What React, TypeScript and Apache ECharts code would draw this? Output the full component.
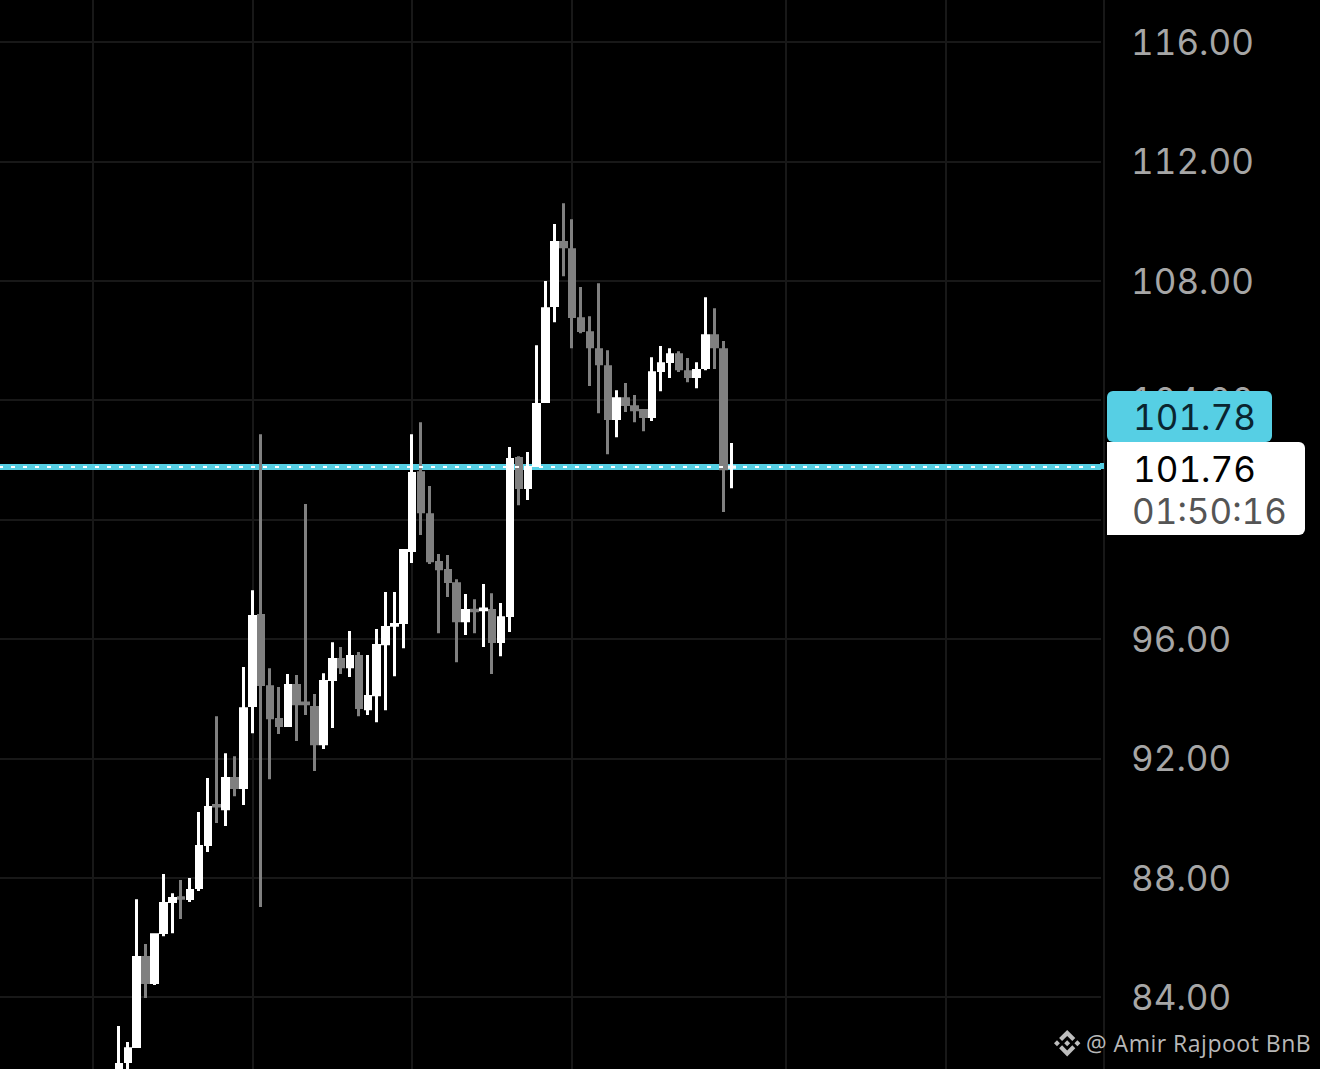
import React, { useEffect, useRef } from "react";
import * as echarts from "echarts";

const opens = [81.54,81.84,82.34,85.32,84.49,86.16,87.20,87.33,87.30,87.67,89.11,90.42,90.31,91.32,91.02,93.77,96.78,94.40,93.30,93.10,94.44,93.85,93.70,92.49,94.64,95.31,95.07,95.41,93.66,94.13,95.84,96.46,96.55,98.96,101.57,100.16,98.56,98.29,97.85,96.61,96.96,96.98,96.95,95.91,96.78,102.04,101.07,101.81,103.95,107.17,109.28,109.04,106.73,106.26,105.69,105.12,103.38,104.05,103.78,103.65,103.45,104.99,105.29,105.52,104.95,104.79,105.09,106.16,105.69,101.75];
const closes = [81.74,82.27,85.32,84.49,86.09,87.13,87.30,87.31,87.57,89.04,90.35,90.40,91.32,91.02,93.66,96.75,94.47,93.36,93.10,94.44,93.83,93.83,92.49,94.57,95.31,95.07,95.41,93.70,94.07,95.78,96.38,96.48,98.96,101.54,100.26,98.62,98.35,97.92,96.61,96.95,96.94,97.00,95.91,96.71,102.01,101.07,101.74,103.85,107.06,109.28,109.14,106.80,106.33,105.79,105.22,103.38,104.05,103.85,103.68,103.45,104.92,105.22,105.52,105.05,104.79,104.99,106.16,105.79,101.70,101.76];
const lows = [81.39,81.49,82.29,83.97,84.40,86.04,86.14,86.61,87.18,87.55,88.86,89.83,89.73,90.73,90.43,92.84,87.02,91.30,92.81,93.05,92.58,93.45,91.57,92.31,93.01,94.82,94.72,93.41,93.45,93.21,93.61,94.75,95.69,98.54,99.48,98.51,96.19,97.40,95.22,96.13,96.19,95.73,94.82,95.42,96.23,100.48,100.65,101.76,103.90,106.61,108.15,105.74,106.24,104.47,103.56,102.19,102.76,103.60,103.26,102.96,103.30,104.30,104.74,104.94,104.60,104.40,105.00,105.04,100.25,101.05];
const highs = [83.03,82.49,87.28,85.78,86.14,88.12,87.48,87.92,87.99,90.20,91.34,93.41,92.17,92.07,95.06,97.63,102.86,95.02,94.39,94.82,94.79,100.52,94.15,94.85,95.89,95.73,96.26,95.56,95.46,96.33,97.57,97.57,99.01,102.86,103.26,101.12,98.84,98.81,98.00,97.50,97.33,97.84,97.53,97.20,102.43,102.12,102.26,105.84,107.99,109.90,110.60,110.06,107.79,106.81,107.92,105.67,104.33,104.57,104.17,103.70,105.44,105.81,105.74,105.64,105.41,105.27,107.45,107.08,105.98,102.56];

const leadingSlots = 13;
const totalSlots = 124;
const verticalGridSlots = [10, 28, 46, 64, 88, 106];
const categories = Array.from({ length: totalSlots }, (_, i) => `${i - leadingSlots}`);

const yMin = 80;
const yMax = 120;
const yStep = 4;
const hiddenTickLabels = [80, 100, 120];
const markPrice = 101.78;
const lastPrice = 101.76;
const markPriceLabel = "101.78";
const lastPriceLabel = "101.76";
const countdownLabel = "01:50:16";
const watermark = "@ Amir Rajpoot BnB";

const logoPath =
  "M16.624 13.9202l2.7175 2.7154-7.353 7.353-7.353-7.352 2.7175-2.7164 4.6355 4.6595 4.6356-4.6595zm4.6366-4.6366L24 12l-2.7154 2.7164L18.5682 12l2.6924-2.7164zm-9.272.001l2.7163 2.6914-2.7164 2.7174v-.001L9.2721 12l2.7164-2.7154zm-9.2722-.001L5.4088 12l-2.6914 2.6924L0 12l2.7164-2.7164zM11.9885.0115l7.353 7.329-2.7174 2.7154-4.6356-4.6356-4.6355 4.6595-2.7174-2.7154 7.353-7.353z";
echarts.graphic.registerShape("bnbLogo", echarts.graphic.extendPath(logoPath as any, {}) as any);

const GRID = "#181818";
const UP = "#ffffff";
const DOWN = "#808080";
const CYAN = "#56cfe4";
const FONT = "Inter, Roboto, sans-serif";
const pageCss = `svg text { font-variant-numeric: tabular-nums !important; font-feature-settings: "tnum" 1 !important; }
svg text[style*="Open Sans"] { letter-spacing: 0.5px; }`;

export default function App() {
  const ref = useRef<HTMLDivElement>(null);
  useEffect(() => {
    document.body.style.margin = "0";
    document.body.style.background = "#000";
    const chart = echarts.init(ref.current!, undefined, { renderer: "svg" });
    const candleData = categories.map((_, i) => {
      const k = i - leadingSlots;
      return k >= 0 && k < opens.length ? [opens[k], closes[k], lows[k], highs[k]] : "-";
    });
    chart.setOption({
      animation: false,
      backgroundColor: "#000000",
      grid: { left: -1, width: 1102, top: -77.4, height: 1193.8, containLabel: false, outerBoundsMode: "none" },
      xAxis: {
        type: "category",
        data: categories,
        boundaryGap: true,
        axisLine: { show: false },
        axisTick: { show: false },
        axisLabel: { show: false },
        splitLine: {
          show: true,
          alignWithLabel: true,
          interval: (index: number) => verticalGridSlots.includes(index),
          lineStyle: { color: GRID, width: 2 },
        },
      },
      yAxis: {
        type: "value",
        position: "right",
        offset: 3,
        min: yMin,
        max: yMax,
        interval: yStep,
        axisLine: { show: true, lineStyle: { color: GRID, width: 2 } },
        axisTick: { show: false },
        axisLabel: {
          show: true,
          margin: 27,
          align: "left",
          color: "#a6a6a6",
          fontFamily: FONT,
          fontSize: 35,
          formatter: (v: number) => (hiddenTickLabels.includes(v) ? "" : v.toFixed(2)),
        },
        splitLine: { show: true, lineStyle: { color: GRID, width: 2 } },
      },
      series: [
        {
          type: "line",
          data: [],
          silent: true,
          z: 1,
          markLine: {
            silent: true,
            symbol: "none",
            z: 1,
            animation: false,
            label: { show: false },
            lineStyle: { color: CYAN, width: 6, type: "solid" },
            data: [{ yAxis: markPrice }],
          },
        },
        {
          type: "candlestick",
          z: 2,
          barWidth: 6,
          data: candleData,
          itemStyle: {
            color: UP,
            color0: DOWN,
            borderColor: UP,
            borderColor0: DOWN,
            borderWidth: 3,
          },
        },
        {
          type: "line",
          data: [],
          silent: true,
          z: 3,
          markLine: {
            silent: true,
            symbol: "none",
            z: 3,
            animation: false,
            label: { show: false },
            lineStyle: { color: "#ffffff", width: 2, type: [4, 8] },
            data: [{ yAxis: lastPrice }],
          },
        },
      ],
      graphic: [
        {
          type: "rect",
          z: 100,
          shape: { x: 1100, y: 463, width: 4, height: 6 },
          style: { fill: CYAN },
        },
        {
          type: "rect",
          z: 100,
          shape: { x: 1107, y: 391, width: 165, height: 51, r: 6 },
          style: { fill: CYAN },
        },
        {
          type: "rect",
          z: 101,
          shape: { x: 1107, y: 442, width: 198, height: 93, r: [0, 6, 6, 0] },
          style: { fill: "#ffffff" },
        },
        {
          type: "text",
          z: 102,
          x: 1133,
          y: 417,
          style: { text: markPriceLabel, fill: "#0a2530", fontFamily: FONT, fontSize: 35, textVerticalAlign: "middle" },
        },
        {
          type: "text",
          z: 102,
          x: 1133,
          y: 469,
          style: { text: lastPriceLabel, fill: "#000000", fontFamily: FONT, fontSize: 35, textVerticalAlign: "middle" },
        },
        {
          type: "text",
          z: 102,
          x: 1132,
          y: 511,
          style: { text: countdownLabel, fill: "#555555", fontFamily: FONT, fontSize: 35, textVerticalAlign: "middle" },
        },
        {
          type: "bnbLogo",
          z: 102,
          x: 1054,
          y: 1030,
          scaleX: 1.1,
          scaleY: 1.1,
          style: { fill: "#bdbdbd" },
        },
        {
          type: "text",
          z: 102,
          x: 1086,
          y: 1043,
          style: { text: watermark, fill: "#b8b8b8", font: `23px "Open Sans", sans-serif`, textVerticalAlign: "middle" },
        },
      ],
    });
    return () => chart.dispose();
  }, []);
  return (
    <>
      <style>{pageCss}</style>
      <div ref={ref} style={{ width: 1320, height: 1069 }} />
    </>
  );
}
